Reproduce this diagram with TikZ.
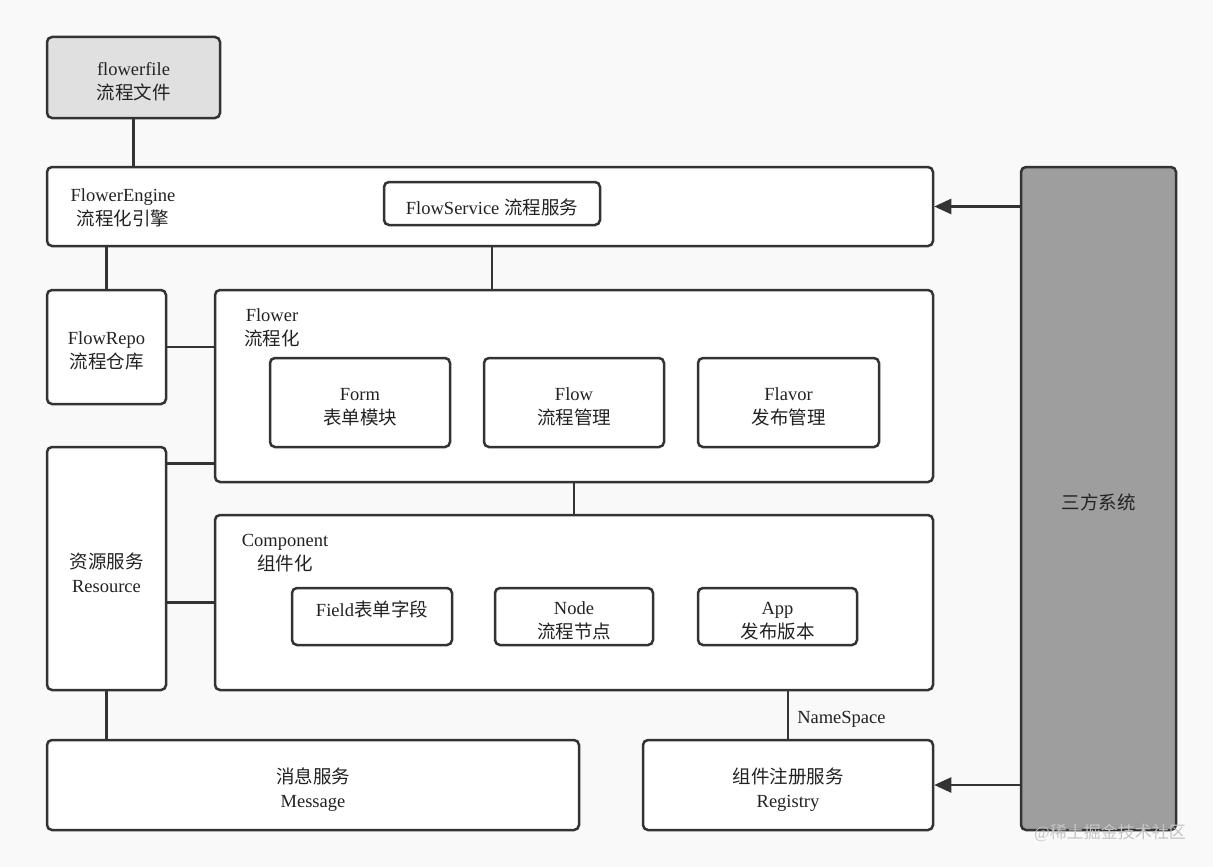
\documentclass[tikz,border=0pt]{standalone}
\usepackage{fontspec}
\setmainfont{Liberation Serif}
\newfontfamily\zhfont{Noto Sans CJK SC}
\newcommand\zh[1]{{\zhfont #1}}
\usetikzlibrary{arrows.meta}
\definecolor{bg}{HTML}{F9F9F9}
\definecolor{ln}{HTML}{333333}
\definecolor{tx}{HTML}{222222}
\definecolor{lightbox}{HTML}{E0E0E0}
\definecolor{darkbox}{HTML}{9E9E9E}
\definecolor{wmark}{HTML}{C4C4C4}
\tikzset{
  box/.style={draw=ln, line width=2.5pt, rounded corners=5pt, fill=white, text=tx,
    align=center, inner sep=0pt, font=\fontsize{18.5}{24}\selectfont, text height=45pt},
  zhbox/.style={box, text height=48.5pt},
  onebox/.style={box, text height=24pt},
  lbl/.style={text=tx, align=center, inner sep=0pt, font=\fontsize{18.5}{24}\selectfont},
  conn/.style={draw=ln, line width=2.5pt},
  arr/.style={conn, -{Triangle[length=17pt,width=15pt]}},
}
\begin{document}
\begin{tikzpicture}[x=1pt,y=-1pt]
\fill[bg] (0,0) rectangle (1213,867);
\useasboundingbox (0,0) rectangle (1213,867);

% top file
\node[box, fill=lightbox, minimum width=173pt, minimum height=81pt] (ff) at (133.5,77.5) {flowerfile\\\zh{流程文件}};
% engine
\node[box, minimum width=886pt, minimum height=79pt] (fe) at (490,206.5) {};
\node[lbl] (feL) at (123,208) {FlowerEngine\\\zh{流程化引擎}};
\node[onebox, minimum width=216pt, minimum height=43pt] (fs) at (492,203.5) {FlowService \zh{流程服务}};
% third party
\node[onebox, fill=darkbox, minimum width=155pt, minimum height=663pt] (tp) at (1098.5,498.5) {\zh{三方系统}};
% repo
\node[box, minimum width=119pt, minimum height=114pt] (repo) at (106.5,347) {FlowRepo\\\zh{流程仓库}};
% flower
\node[box, minimum width=718pt, minimum height=192pt] (fw) at (574,386) {};
\node[lbl] (fwL) at (272,328) {Flower\\\zh{流程化}};
\node[box, minimum width=180pt, minimum height=89pt] (form) at (360,402.5) {Form\\\zh{表单模块}};
\node[box, minimum width=180pt, minimum height=89pt] (flow) at (574,402.5) {Flow\\\zh{流程管理}};
\node[box, minimum width=181pt, minimum height=89pt] (flav) at (788.5,402.5) {Flavor\\\zh{发布管理}};
% resource
\node[zhbox, minimum width=119pt, minimum height=243pt] (res) at (106.5,568.5) {\zh{资源服务}\\Resource};
% component
\node[box, minimum width=718pt, minimum height=175pt] (comp) at (574,602.5) {};
\node[lbl] (compL) at (285,553) {Component\\\zh{组件化}};
\node[zhbox, minimum width=160pt, minimum height=57pt] (field) at (372,616.5) {Field\zh{表单字段}\\\mbox{}};
\node[box, minimum width=158pt, minimum height=57pt] (nd) at (574,616.5) {Node\\\zh{流程节点}};
\node[box, minimum width=159pt, minimum height=57pt] (app) at (777.5,616.5) {App\\\zh{发布版本}};
% bottom
\node[zhbox, minimum width=532pt, minimum height=90pt] (msg) at (313,785) {\zh{消息服务}\\Message};
\node[zhbox, minimum width=290pt, minimum height=90pt] (reg) at (788,785) {\zh{组件注册服务}\\Registry};

% connectors
\draw[conn] (ff.south) -- (ff.south |- fe.north);
\draw[conn] (repo.north) -- (repo.north |- fe.south);
\draw[conn] (fs.south |- fe.south) -- (fs.south |- fw.north);
\draw[conn] (repo.east) -- (repo.east -| fw.west);
\draw[conn] ([yshift=20pt]fw.south west -| res.east) -- ([yshift=20pt]fw.south west);
\draw[conn] (comp.west -| res.east) -- (comp.west);
\draw[conn] (flow.south |- fw.south) -- (flow.south |- comp.north);
\draw[conn] (res.south) -- (res.south |- msg.north);
\draw[conn] (reg.north) -- (reg.north |- comp.south) node[lbl, pos=0.4, right=8pt] (ns) {NameSpace};
\draw[arr] (tp.west |- fe.east) -- (fe.east);
\draw[arr] (tp.west |- reg.east) -- (reg.east);

% watermark
\node[lbl, text=wmark, font=\fontsize{17}{20}\selectfont] (wm) at (1110,833) {@\zh{稀土掘金技术社区}};
\end{tikzpicture}
\end{document}
